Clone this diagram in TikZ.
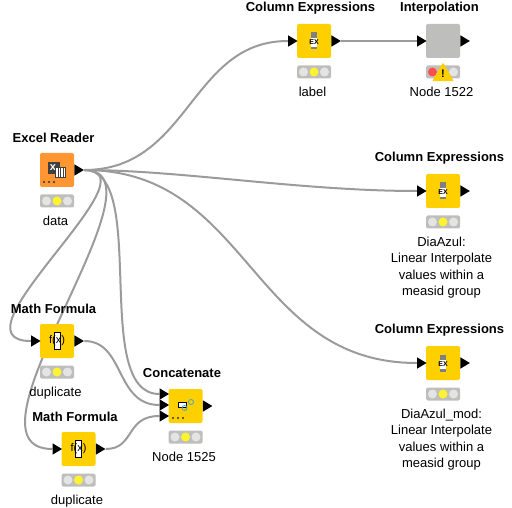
\documentclass[tikz,border=0pt]{standalone}
\usepackage{fontspec}
\setmainfont{Liberation Sans}
\usetikzlibrary{shapes.geometric, calc, backgrounds}
\definecolor{nodeyellow}{HTML}{FFD000}
\definecolor{nodeorange}{HTML}{FF9632}
\definecolor{nodegray}{HTML}{BEBFBD}
\definecolor{edgegray}{HTML}{9B9B9B}
\definecolor{lampgray}{HTML}{E4E4E4}
\definecolor{lampyellow}{HTML}{FFF22E}
\definecolor{ringblue}{HTML}{45A5C8}
\tikzset{
  box/.style={rectangle, rounded corners=2pt, minimum size=34pt, inner sep=0pt},
  port/.style={isosceles triangle, isosceles triangle apex angle=62, minimum height=9.5pt, minimum width=11pt,
               inner sep=0pt, fill=black, anchor=lower side},
  lightbar/.style={rectangle, rounded corners=1.5pt, minimum width=34pt, minimum height=13pt, inner sep=0pt, fill=nodegray},
  lamp/.style={circle, minimum size=9pt, inner sep=0pt, fill=lampgray},
  title/.style={font=\bfseries\fontsize{13}{15}\selectfont, inner sep=0pt},
  caption/.style={font=\fontsize{13}{16.3}\selectfont, align=center, anchor=north, inner sep=0pt},
  edge/.style={edgegray, line width=2pt},
  dot/.style={circle, minimum size=2.4pt, inner sep=0pt, fill=black!80},
  iconEX/.style={font=\bfseries\fontsize{7}{7}\selectfont, inner sep=0pt},
  ring/.style={draw=ringblue, circle, minimum size=5pt, inner sep=0pt, line width=0.8pt},
}
\begin{document}
\begin{tikzpicture}[x=1pt, y=-1pt]
  \useasboundingbox (0,0) rectangle (512,508);

  % nodes: name / x / y / fill / title / text below
  \foreach \name/\xx/\yy/\col/\head/\sub in {
      ce1/314/41/nodeyellow/Column Expressions/label,
      ip1/443/41/nodegray/Interpolation/Node 1522,
      xl1/57/170/nodeorange/Excel Reader/data,
      ce2/443/191/nodeyellow/Column Expressions/{DiaAzul:\\Linear Interpolate\\values within a\\measid group},
      ce3/443/363/nodeyellow/Column Expressions/{DiaAzul\_mod:\\Linear Interpolate\\values within a\\measid group},
      mf1/57/341/nodeyellow/Math Formula/duplicate,
      mf2/78.5/449/nodeyellow/Math Formula/duplicate,
      cc1/185.5/406/nodeyellow/Concatenate/Node 1525}
  {
    \node[box, fill=\col] (\name) at (\xx,\yy) {};
    \node[port] (\name-out) at (\name.east) {};
    \node[lightbar] (\name-bar) at (\xx,\yy+31) {};
    \node[lamp] (\name-a) at (\xx-10.5,\yy+31) {};
    \node[lamp, fill=lampyellow] (\name-b) at (\xx,\yy+31) {};
    \node[lamp] (\name-c) at (\xx+10.5,\yy+31) {};
    \node[title] (\name-head) at (\xx-3.5,\yy-32.5) {\head};
    \node[caption] (\name-sub) at (\xx-1.5,\yy+46) {\sub};
  }

  % input ports
  \foreach \name in {ce1, ip1, ce2, ce3, mf1, mf2}
    \node[port] (\name-in) at ($(\name.west)+(-9,0)$) {};
  \node[port] (cc1-ina) at ($(cc1.west)+(-9,-12)$) {};
  \node[port] (cc1-inb) at ($(cc1.west)+(-9,-1)$) {};
  \node[port] (cc1-inc) at ($(cc1.west)+(-9,10)$) {};

  % warning on the unconfigured node
  \node[lamp, fill=red!70!white] (ip1-a) at (432.5,72) {};
  \node[lamp] (ip1-b) at (443,72) {};
  \node[regular polygon, regular polygon sides=3, fill=nodeyellow, minimum size=25pt, inner sep=0pt,
        rounded corners=1pt] (warn) at (443,75) {};
  \node[font=\bfseries\fontsize{11}{11}\selectfont, inner sep=0pt] (warnmark) at (443,74) {!};

  % icons
  \foreach \name in {ce1, ce2, ce3} {
    \node[fill=gray, minimum width=6pt, minimum height=17pt, inner sep=0pt] (\name-tube) at (\name) {};
    \node[fill=white, minimum width=6pt, minimum height=9pt, inner sep=0pt] (\name-core) at ($(\name)+(0,1.5)$) {};
    \node[iconEX] (\name-ex) at ($(\name)+(0,1)$) {EX};
  }
  \foreach \name in {mf1, mf2} {
    \node[draw=black, fill=white, line width=0.5pt, minimum width=6pt, minimum height=17pt, inner sep=0pt] (\name-tube) at (\name) {};
    \node[font=\fontsize{11}{11}\selectfont, inner sep=0pt] (\name-fx) at (\name) {f(x)};
  }
  \node[fill=black!75, minimum width=12pt, minimum height=12pt, inner sep=0pt] (xl1-icon) at (53.5,168.5) {};
  \node[text=white, font=\bfseries\fontsize{11}{11}\selectfont, inner sep=0pt] (xl1-x) at (53,167.5) {x};
  \node[draw=black!75, fill=white, line width=1pt, minimum width=10pt, minimum height=10pt, inner sep=0pt] (xl1-grid) at (60.5,173) {};
  \foreach \k in {-2.5,0,2.5}
    \node[fill=black!75, minimum width=0.8pt, minimum height=10pt, inner sep=0pt] (xl1-line\k) at (60.5+\k,173) {};
  \node[draw=black, fill=white, minimum width=8pt, minimum height=5pt, inner sep=0pt] (cc1-bar) at (182,404.5) {};
  \node[ring] (cc1-ringa) at (191,402) {};
  \node[ring] (cc1-ringb) at (184.5,408) {};
  \foreach \name/\xx/\yy in {xl1/44/182, cc1/173/418}
    \foreach \k in {0,1,2}
      \node[dot] (\name-dot\k) at (\xx+\k*5,\yy) {};

  % connectors
  \begin{scope}[on background layer]
    \draw[edge] (xl1-out.apex) .. controls (190,170) and (190,41) .. (ce1-in.lower side);
    \draw[edge] (ce1-out.apex) -- (ip1-in.lower side);
    \draw[edge] (xl1-out.apex) .. controls (180,170) and (300,191) .. (ce2-in.lower side);
    \draw[edge] (xl1-out.apex) .. controls (250,170) and (250,363) .. (ce3-in.lower side);
    \draw[edge] (xl1-out.apex) .. controls (160,170) and (-55,341) .. (mf1-in.lower side);
    \draw[edge] (xl1-out.apex) .. controls (175,170) and (-50,449) .. (mf2-in.lower side);
    \draw[edge] (xl1-out.apex) .. controls (150,170) and (90,394) .. (cc1-ina.lower side);
    \draw[edge] (mf1-out.apex) .. controls (125,341) and (115,405) .. (cc1-inb.lower side);
    \draw[edge] (mf2-out.apex) .. controls (135,449) and (125,416) .. (cc1-inc.lower side);
  \end{scope}
\end{tikzpicture}
\end{document}
